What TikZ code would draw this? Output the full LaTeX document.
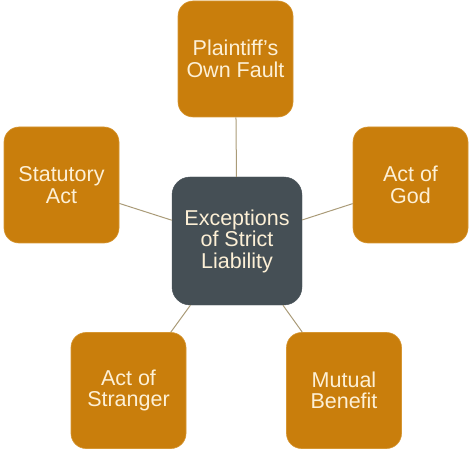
\documentclass[tikz,border=0pt]{standalone}
\usepackage{fontspec}
\setmainfont{Liberation Sans}
\usepackage{xcolor}
\usepackage{tikz}

\definecolor{exorange}{RGB}{201,126,12}
\definecolor{exedge}{RGB}{214,150,50}
\definecolor{exslate}{RGB}{69,79,85}
\definecolor{extext}{RGB}{253,240,214}
\definecolor{exline}{RGB}{170,155,120}

\begin{document}
\begin{tikzpicture}[x=1pt, y=-1pt, font=\fontsize{21.5}{21.5}\selectfont,
    exception/.style={rectangle, draw=exedge, line width=0.6pt, fill=exorange, text=extext, align=center, rounded corners=15pt, minimum width=115pt, minimum height=116pt, inner sep=0pt},
    core/.style={rectangle, draw=exslate, fill=exslate, text=extext, align=center, rounded corners=18pt, minimum width=130pt, minimum height=128pt, inner sep=0pt},
    link/.style={draw=exline, line width=1pt}]
        \useasboundingbox (0,0) rectangle (474,449);
        % Nodes
        \node [core] (core) at (237,241) {Exceptions\\of Strict\\Liability};
        \node [exception] (fault) at (235.5,59) {Plaintiff’s\\Own Fault};
        \node [exception] (god) at (410.5,185) {Act of\\God};
        \node [exception] (statute) at (61.5,185) {Statutory\\Act};
        \node [exception] (stranger) at (128.5,390.5) {Act of\\Stranger};
        \node [exception] (benefit) at (344,390.5) {Mutual\\Benefit};

        % Lines
        \path [link] (core) -- (fault);
        \path [link] (core) -- (god);
        \path [link] (core) -- (statute);
        \path [link] (core) -- (stranger);
        \path [link] (core) -- (benefit);
    \end{tikzpicture}
\end{document}
